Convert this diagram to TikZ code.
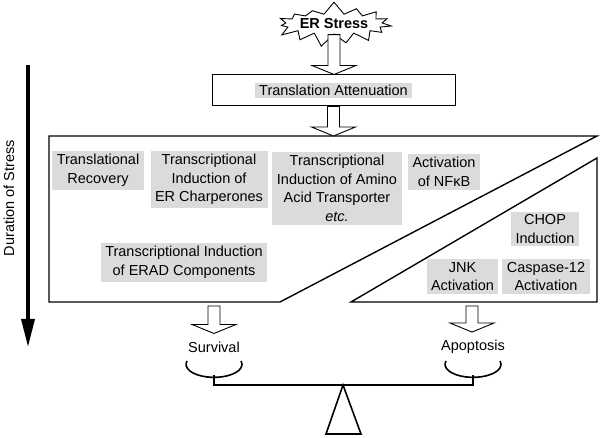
\documentclass[tikz,border=0pt]{standalone}
\usepackage{fontspec}
\setmainfont{Liberation Sans}
\usetikzlibrary{calc,positioning,shapes.symbols,arrows.meta}

% open block arrow pointing down from #1 to the level of #2
\newcommand{\hollowarrow}[2]{%
  \draw[harrow] ($(#1)+(-6,0)$) -- ($(#1 |- #2)+(-6,-9)$) -- ($(#1 |- #2)+(-22,-9)$)
    -- (#1 |- #2) -- ($(#1 |- #2)+(22,-9)$) -- ($(#1 |- #2)+(6,-9)$) -- ($(#1)+(6,0)$) -- cycle;}

\begin{document}
\begin{tikzpicture}[x=1pt,y=-1pt,font=\fontsize{14.5}{18.5}\selectfont,
    gbox/.style={fill=black!14, align=center, inner xsep=4.5pt, inner ysep=3pt},
    frame/.style={line width=1.4pt, line join=miter},
    harrow/.style={line width=0.9pt, fill=white},
    beam/.style={line width=1.6pt}]
  \useasboundingbox (0,0) rectangle (600,438);

  \node (stress) [draw, fill=white, starburst, starburst points=15, starburst point height=13pt,
    random starburst=7, minimum width=112pt, minimum height=46pt, inner sep=0pt,
    line width=0.9pt] at (334,24) {\textbf{ER Stress}};
  \node (attbox) [draw, line width=1pt, minimum width=243pt, minimum height=31pt] at (333.5,90.5) {};
  \node (atten) [gbox, inner ysep=2pt] at (attbox) {Translation Attenuation};

  % survival and apoptosis fields
  \coordinate (tl) at (49,136);
  \coordinate (tr) at (597,136);
  \coordinate (bm) at (280,302);
  \coordinate (bl) at (49,302);
  \coordinate (ar) at (597,158);
  \coordinate (ab) at (351,302);
  \coordinate (abr) at (597,302);
  \draw[frame] (tl) -- (tr) -- (bm) -- (bl) -- cycle;
  \draw[frame] (ar) -- (ab) -- (abr) -- cycle;

  \hollowarrow{stress.south}{attbox.north}
  \hollowarrow{attbox.south}{tl}

  \node (recov) [gbox] at (98,170.5) {Translational\\Recovery};
  \node (chap) [gbox] at (209,179.5) {Transcriptional\\Induction of\\ER Charperones};
  \node (amino) [gbox] at (337,188.5) {Transcriptional\\Induction of Amino\\Acid Transporter\\\textit{etc.}};
  \node (nfkb) [gbox] at (444,172) {Activation\\of NFκB};
  \node (erad) [gbox] at (184,262.5) {Transcriptional Induction\\of ERAD Components};
  \node (chop) [gbox] at (545,229) {CHOP\\Induction};
  \node (jnk) [gbox] at (462.5,276.5) {JNK\\Activation};
  \node (casp) [gbox] at (546,276.5) {Caspase-12\\Activation};

  % duration
  \coordinate (dtop) at (28,65);
  \coordinate (dbot) at (28,347);
  \draw[line width=3.5pt, -{Triangle[length=28pt, width=13pt]}] (dtop) -- (dbot);
  \node (dur) [rotate=90] at (9,198) {Duration of Stress};

  % balance
  \node (surv) [inner ysep=8pt] at (214,347) {Survival};
  \node (apop) [inner ysep=8pt] at (473,347) {Apoptosis};
  \coordinate (s0) at (214,306);
  \coordinate (a0) at (472,306);
  \hollowarrow{s0}{surv.north}
  \hollowarrow{a0}{apop.north}

  \coordinate (p1) at (214,362);
  \coordinate (p2) at (473,362);
  \coordinate (b1) at (214,385);
  \coordinate (b2) at (473,385);
  \coordinate (fulc) at (343,385);
  \draw[beam] (p1) ++(-27,-1) arc[start angle=195, end angle=-15, x radius=28, y radius=13];
  \draw[beam] (p2) ++(-27,-1) arc[start angle=195, end angle=-15, x radius=28, y radius=13];
  \draw[beam] ($(p1)+(0,13)$) -- (b1) -- (b2) -- ($(p2)+(0,13)$);
  \draw[beam, line join=miter] (fulc) -- (326,434) -- (361,434) -- cycle;
\end{tikzpicture}
\end{document}
